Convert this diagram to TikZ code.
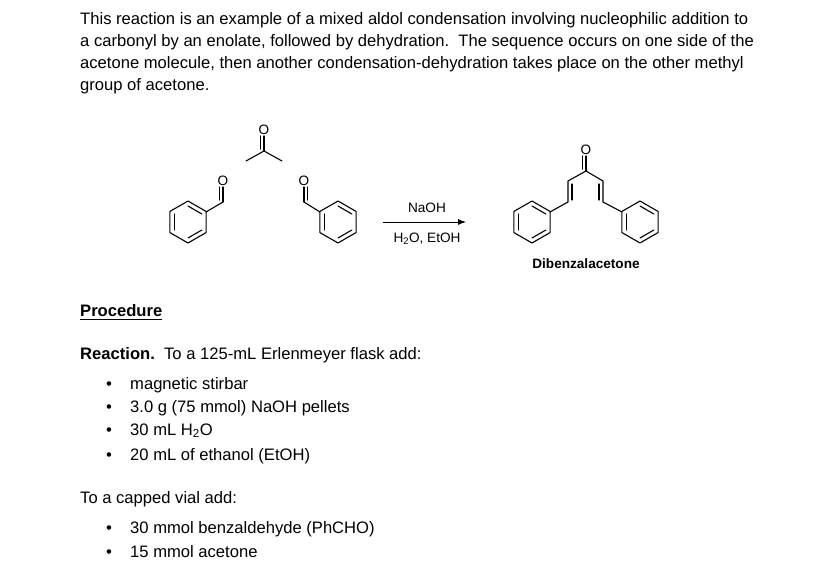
\documentclass[tikz,border=0pt]{standalone}
\usepackage{fontspec}
\setmainfont{Liberation Sans}
\usetikzlibrary{calc,arrows.meta}
\newcommand{\benzring}[2]{%
  \draw[bond] (#1,#2) ++(90:21) -- ++(-30:21) -- ++(-90:21) -- ++(-150:21) -- ++(150:21) -- ++(90:21) -- cycle;
  \draw[bond] ($(#1,#2)+(90:16)$) -- ($(#1,#2)+(30:16)$);
  \draw[bond] ($(#1,#2)+(150:16)$) -- ($(#1,#2)+(210:16)$);
  \draw[bond] ($(#1,#2)+(270:16)$) -- ($(#1,#2)+(330:16)$);}
\begin{document}
\begin{tikzpicture}[x=1pt,y=-1pt,
  bond/.style={line width=1.1pt,line cap=round,line join=round},
  txt/.style={anchor=base west,inner sep=0pt,font=\fontsize{16.6}{19}\selectfont},
  small/.style={inner sep=0pt,font=\fontsize{13.6}{16}\selectfont},
  atom/.style={inner sep=0.5pt,font=\fontsize{13.6}{16}\selectfont,fill=white}]
\useasboundingbox (0,0) rectangle (828,567);
\node[txt] (l1) at (80,25) {This reaction is an example of a mixed aldol condensation involving nucleophilic addition to};
\node[txt] (l2) at (80,47) {a carbonyl by an enolate, followed by dehydration.\ \ The sequence occurs on one side of the};
\node[txt] (l3) at (80,69) {acetone molecule, then another condensation-dehydration takes place on the other methyl};
\node[txt] (l4) at (80,91) {group of acetone.};
% benzaldehyde left
\benzring{188}{222}
\draw[bond] (206,212) -- (223,202);
\draw[bond] (223,202) -- (223,187);
\draw[bond] (219.5,200) -- (219.5,187);
\node[atom] (o1) at (223,181) {O};
% acetone
\draw[bond] (246,161) -- (264,151) -- (282,161);
\draw[bond] (264,151) -- (264,136);
\draw[bond] (260.5,149) -- (260.5,136);
\node[atom] (o2) at (264,130) {O};
% benzaldehyde right
\benzring{338}{222}
\draw[bond] (320,212) -- (304,202);
\draw[bond] (304,202) -- (304,187);
\draw[bond] (307.5,200) -- (307.5,187);
\node[atom] (o3) at (304,181) {O};
% arrow
\coordinate (a1) at (383,222);
\coordinate (a2) at (466,222);
\draw[line width=0.9pt,-{Latex[length=8pt]}] (a1) -- (a2);
\node[small] (naoh) at (427,208) {NaOH};
\node[small] (h2o) at (427,239) {H\textsubscript{2}O, EtOH};
% product
\benzring{532}{222}
\benzring{640}{222}
\draw[bond] (550,212) -- (568,202) -- (568,181) -- (586,171) -- (603,181) -- (603,202) -- (622,212);
\draw[bond] (572,200) -- (572,184);
\draw[bond] (599,200) -- (599,184);
\draw[bond] (586,171) -- (586,156);
\draw[bond] (582.5,169) -- (582.5,156);
\node[atom] (o4) at (586,150) {O};
\node[small,font=\fontsize{13.6}{16}\selectfont\bfseries] (dba) at (586,264) {Dibenzalacetone};
% procedure
\node[txt,font=\fontsize{16.6}{19}\selectfont\bfseries] (proc) at (80,316) {Procedure};
\draw[line width=0.9pt] (80,319) -- (162,319);
\node[txt] (react) at (80,359) {\textbf{Reaction.}\ \ To a 125-mL Erlenmeyer flask add:};
\foreach \y/\t [count=\i] in {389/magnetic stirbar,412/3.0 g (75 mmol) NaOH pellets,435/30 mL H\textsubscript{2}O,460/20 mL of ethanol (EtOH)}{
  \node[txt] (b\i) at (106,\y) {\textbullet};
  \node[txt] (t\i) at (130,\y) {\t};}
\node[txt] (vial) at (80,503) {To a capped vial add:};
\foreach \y/\t [count=\i] in {533/30 mmol benzaldehyde (PhCHO),557/15 mmol acetone}{
  \node[txt] (vb\i) at (106,\y) {\textbullet};
  \node[txt] (vt\i) at (130,\y) {\t};}
\end{tikzpicture}
\end{document}
